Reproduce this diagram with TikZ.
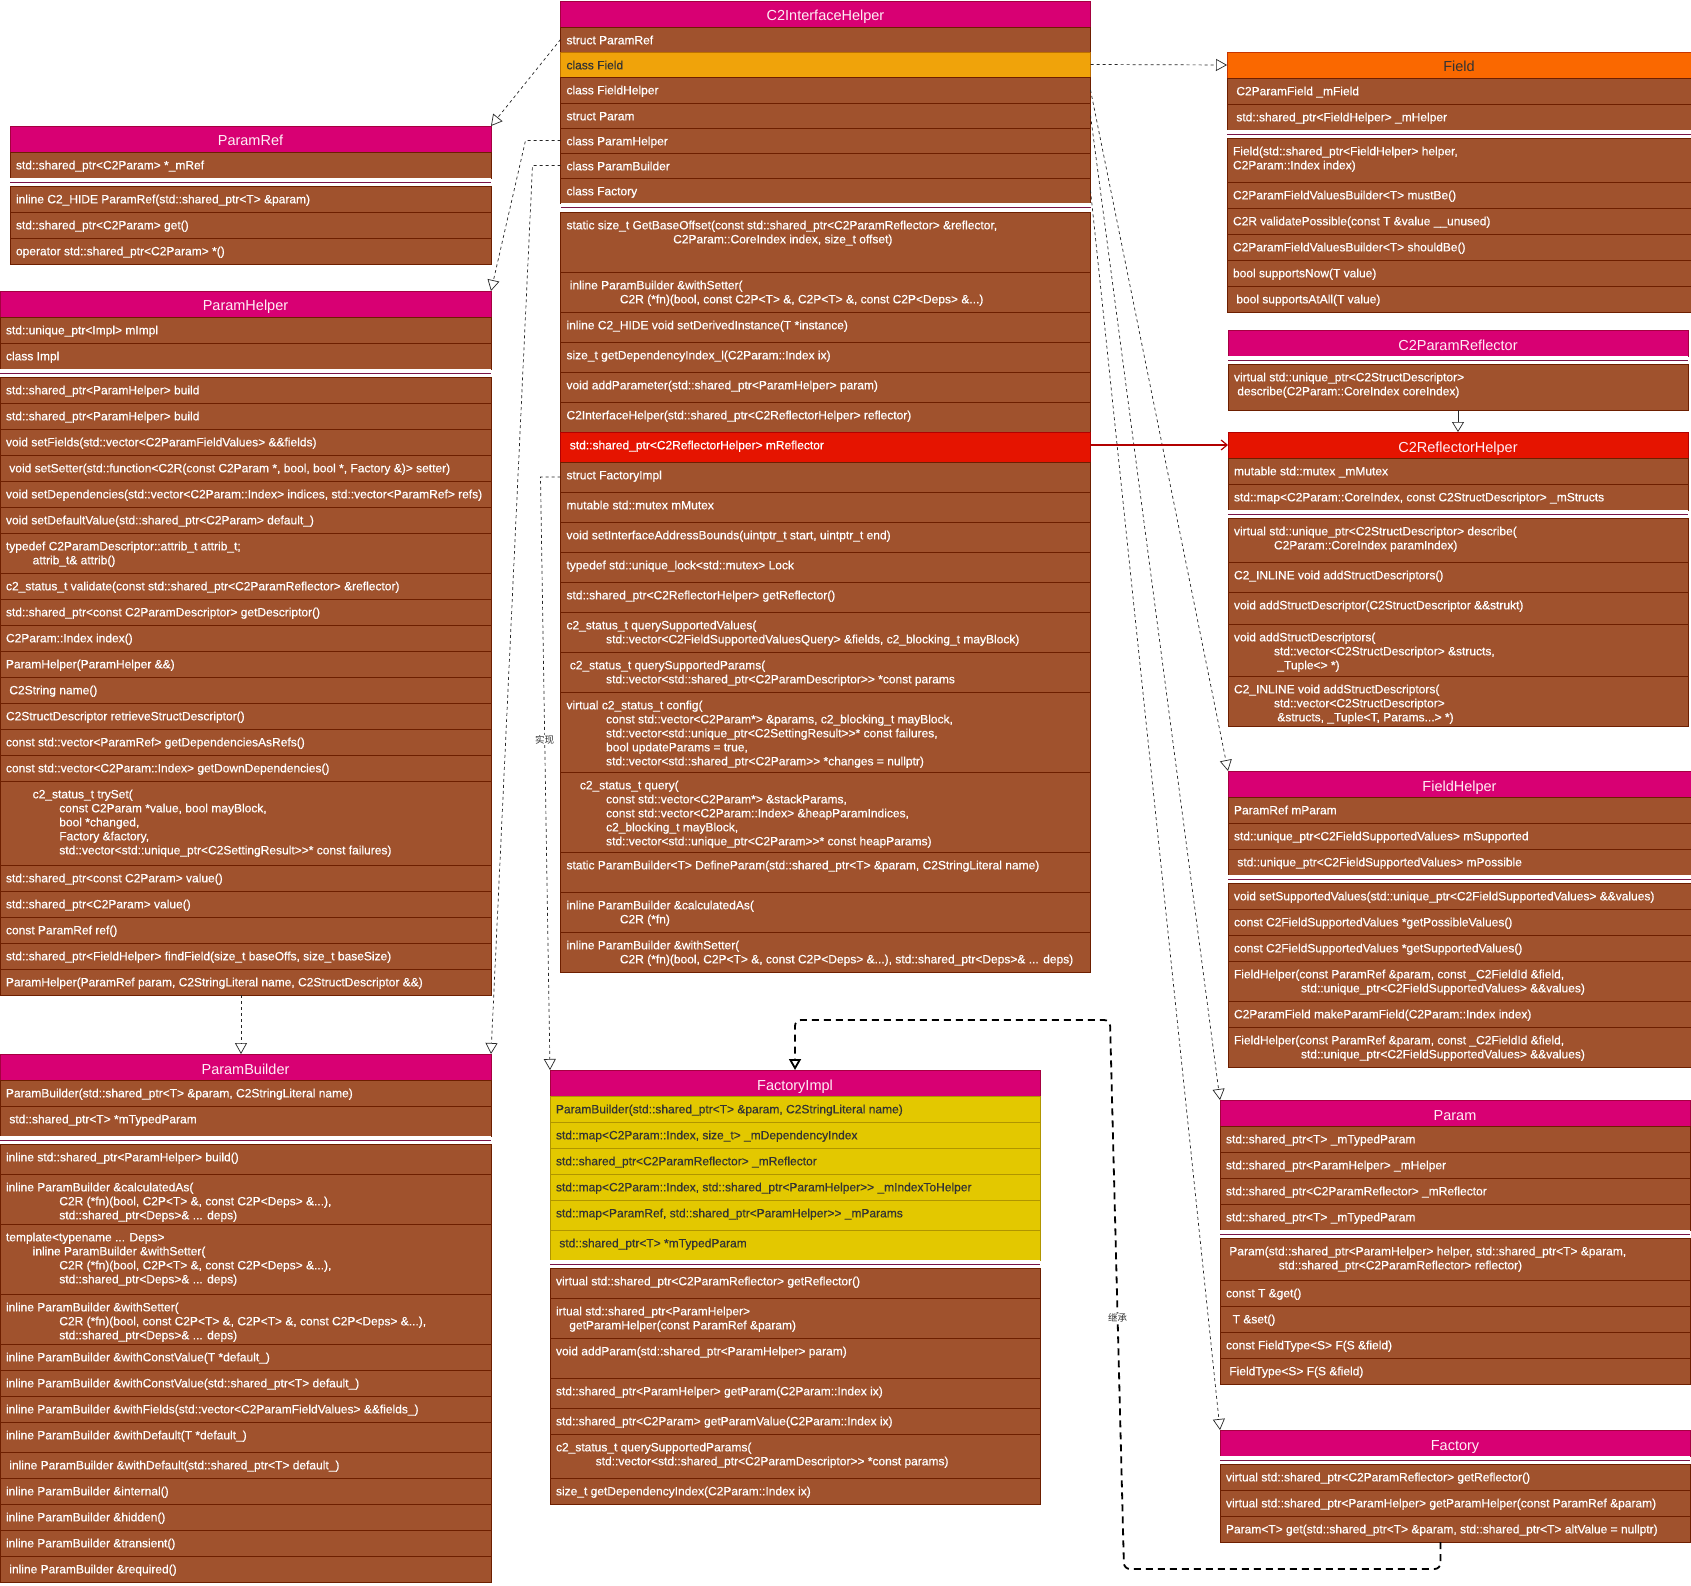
\documentclass[tikz,border=0pt]{standalone}
\usepackage{fontspec}
\setmainfont{Liberation Sans}[FakeBold=0.5]
\newfontfamily\hdrfam{Liberation Sans}
\newfontfamily\cjk{Noto Sans CJK SC}
\usetikzlibrary{arrows.meta}
\definecolor{hdr}{HTML}{D80073}\definecolor{hdrS}{HTML}{A50040}
\definecolor{sien}{HTML}{A0522D}\definecolor{sienS}{HTML}{6D1F00}
\definecolor{amb}{HTML}{F0A30A}\definecolor{ambS}{HTML}{BD7000}
\definecolor{orn}{HTML}{FA6800}\definecolor{ornS}{HTML}{C73500}
\definecolor{rd}{HTML}{E51400}\definecolor{rdS}{HTML}{B20000}
\definecolor{yel}{HTML}{E3C800}\definecolor{yelS}{HTML}{B09500}
\definecolor{sepC}{HTML}{7A1448}
\definecolor{dark}{HTML}{333333}
\definecolor{hdrT}{HTML}{FFEEF6}
\newdimen\cury
\def\cL{0}\def\cW{0}
\newcommand\rowfont{\fontsize{12}{14}\selectfont}
\newcommand\hdrfont{\hdrfam\fontsize{14.5}{17}\selectfont}
\newcommand\ind[1]{\hskip#1pt\relax}
\newcommand\rowlines[1]{\baselineskip=14pt\lineskiplimit=-100pt\lineskip=0pt\def\\{\egroup\hbox\bgroup}\hbox\bgroup#1\egroup}
\tikzset{
 cell/.style={anchor=north west, inner sep=0pt, outer sep=0pt, line width=0.9pt},
 hdrM/.style={cell, fill=hdr, draw=hdrS},
 hdrO/.style={cell, fill=orn, draw=ornS},
 hdrR/.style={cell, fill=rd, draw=rdS},
 rowB/.style={cell, fill=sien, draw=sienS},
 rowA/.style={cell, fill=amb, draw=ambS},
 rowR/.style={cell, fill=rd, draw=rdS},
 rowY/.style={cell, fill=yel, draw=yelS},
 sepbox/.style={cell, fill=white, draw=none},
 memtext/.style={anchor=base west, inner sep=0pt, outer sep=0pt, font=\rowfont},
 dep/.style={draw=black!85, line width=0.7pt, dash pattern=on 3pt off 3pt, -{Triangle[open,length=11pt,width=12pt]}},
 inh/.style={draw=black, line width=1.8pt, dash pattern=on 7pt off 5pt, rounded corners=6pt, -{Triangle[open,length=11pt,width=12pt]}},
 gen/.style={draw=black!85, line width=0.7pt, -{Triangle[open,length=10pt,width=12pt]}},
 redarr/.style={draw=rdS, line width=1.2pt, -{Straight Barb[length=6pt,width=10pt]}},
 lbl/.style={font=\cjk\fontsize{9.5}{11}\selectfont, fill=white, inner sep=0.5pt, text=black!80}
}
% class header: name, left, width, top, style, text colour, title
\newcommand\cls[7]{%
 \gdef\cL{#2}\gdef\cW{#3}\global\cury=#4pt\relax
 \node[#5, minimum width=#3pt, minimum height=26pt] (#1) at (#2pt,-#4pt) {};
 \node[anchor=base, inner sep=0pt, text=#6, font=\hdrfont] (#1t) at ({#2pt+#3pt/2},{-#4pt-20pt}) {#7};
 \global\advance\cury by 26pt\relax}
% member row: name, height, style, text colour, text
\newcommand\mem[5]{%
 \node[#3, minimum width=\cW pt, minimum height=#2pt] (#1) at (\cL pt,-\the\cury) {};
 \node[memtext, text=#4] (#1t) at ({\cL pt+6pt},{-\the\cury-17.3pt}) {\vtop{\rowlines{#5}}};
 \global\advance\cury by #2pt\relax}
\newcommand\m[3]{\mem{#1}{#2}{rowB}{white}{#3}}
\newcommand\my[3]{\mem{#1}{#2}{rowY}{dark}{#3}}
\newcommand\sepr[2][8]{%
 \node[sepbox, minimum width=\cW pt, minimum height=#1pt] (#2) at (\cL pt,-\the\cury) {};
 \draw[sepC, line width=0.9pt] ({\cL pt},{-\the\cury-#1pt/2}) -- ({\cL pt+\cW pt},{-\the\cury-#1pt/2});
 \global\advance\cury by #1pt\relax}
\begin{document}
\begin{tikzpicture}
\fill[white] (0,0) rectangle (1691pt,-1586pt);
\useasboundingbox (0,0) rectangle (1691pt,-1586pt);

% ---------------- ParamRef
\cls{pr}{10}{481}{126}{hdrM}{hdrT}{ParamRef}
\m{pr1}{26}{std::shared\_ptr<C2Param> *\_mRef}
\sepr{prs}
\m{pr2}{26}{inline C2\_HIDE ParamRef(std::shared\_ptr<T> \&param)}
\m{pr3}{26}{std::shared\_ptr<C2Param> get()}
\m{pr4}{26}{operator std::shared\_ptr<C2Param> *()}

% ---------------- ParamHelper
\cls{ph}{0}{491}{291}{hdrM}{hdrT}{ParamHelper}
\m{ph1}{26}{std::unique\_ptr<Impl> mImpl}
\m{ph2}{26}{class Impl}
\sepr{phs}
\m{ph3}{26}{std::shared\_ptr<ParamHelper> build}
\m{ph4}{26}{std::shared\_ptr<ParamHelper> build}
\m{ph5}{26}{void setFields(std::vector<C2ParamFieldValues> \&\&fields)}
\m{ph6}{26}{~void setSetter(std::function<C2R(const C2Param *, bool, bool *, Factory \&)> setter)}
\m{ph7}{26}{void setDependencies(std::vector<C2Param::Index> indices, std::vector<ParamRef> refs)}
\m{ph8}{26}{void setDefaultValue(std::shared\_ptr<C2Param> default\_)}
\m{ph9}{40}{typedef C2ParamDescriptor::attrib\_t attrib\_t;\\\ind{26.7}attrib\_t\& attrib()}
\m{ph10}{26}{c2\_status\_t validate(const std::shared\_ptr<C2ParamReflector> \&reflector)}
\m{ph11}{26}{std::shared\_ptr<const C2ParamDescriptor> getDescriptor()}
\m{ph12}{26}{C2Param::Index index()}
\m{ph13}{26}{ParamHelper(ParamHelper \&\&)}
\m{ph14}{26}{~C2String name()}
\m{ph15}{26}{C2StructDescriptor retrieveStructDescriptor()}
\m{ph16}{26}{const std::vector<ParamRef> getDependenciesAsRefs()}
\m{ph17}{26}{const std::vector<C2Param::Index> getDownDependencies()}
\m{ph18}{84}{\ind{26.7}c2\_status\_t trySet(\\\ind{53.3}const C2Param *value, bool mayBlock,\\\ind{53.3}bool *changed,\\\ind{53.3}Factory \&factory,\\\ind{53.3}std::vector<std::unique\_ptr<C2SettingResult>{}>* const failures)}
\m{ph19}{26}{std::shared\_ptr<const C2Param> value()}
\m{ph20}{26}{std::shared\_ptr<C2Param> value()}
\m{ph21}{26}{const ParamRef ref()}
\m{ph22}{26}{std::shared\_ptr<FieldHelper> findField(size\_t baseOffs, size\_t baseSize)}
\m{ph23}{26}{ParamHelper(ParamRef param, C2StringLiteral name, C2StructDescriptor \&\&)}

% ---------------- ParamBuilder
\cls{pb}{0}{491}{1054}{hdrM}{hdrT}{ParamBuilder}
\m{pb1}{26}{ParamBuilder(std::shared\_ptr<T> \&param, C2StringLiteral name)}
\m{pb2}{30}{~std::shared\_ptr<T> *mTypedParam}
\sepr{pbs}
\m{pb3}{30}{inline std::shared\_ptr<ParamHelper> build()}
\m{pb4}{50}{inline ParamBuilder \&calculatedAs(\\\ind{53.3}C2R (*fn)(bool, C2P<T> \&, const C2P<Deps> \&...),\\\ind{53.3}std::shared\_ptr<Deps>\& ... deps)}
\m{pb5}{70}{template<typename ... Deps>\\\ind{26.7}inline ParamBuilder \&withSetter(\\\ind{53.3}C2R (*fn)(bool, C2P<T> \&, const C2P<Deps> \&...),\\\ind{53.3}std::shared\_ptr<Deps>\& ... deps)}
\m{pb6}{50}{inline ParamBuilder \&withSetter(\\\ind{53.3}C2R (*fn)(bool, const C2P<T> \&, C2P<T> \&, const C2P<Deps> \&...),\\\ind{53.3}std::shared\_ptr<Deps>\& ... deps)}
\m{pb7}{26}{inline ParamBuilder \&withConstValue(T *default\_)}
\m{pb8}{26}{inline ParamBuilder \&withConstValue(std::shared\_ptr<T> default\_)}
\m{pb9}{26}{inline ParamBuilder \&withFields(std::vector<C2ParamFieldValues> \&\&fields\_)}
\m{pb10}{30}{inline ParamBuilder \&withDefault(T *default\_)}
\m{pb11}{26}{~inline ParamBuilder \&withDefault(std::shared\_ptr<T> default\_)}
\m{pb12}{26}{inline ParamBuilder \&internal()}
\m{pb13}{26}{inline ParamBuilder \&hidden()}
\m{pb14}{26}{inline ParamBuilder \&transient()}
\m{pb15}{26}{~inline ParamBuilder \&required()}

% ---------------- C2InterfaceHelper
\cls{ci}{560.5}{530}{1}{hdrM}{hdrT}{C2InterfaceHelper}
\m{ciParamRef}{25}{struct ParamRef}
\mem{ciField}{25}{rowA}{dark}{class Field}
\m{ciFieldHelper}{26}{class FieldHelper}
\m{ciParam}{25}{struct Param}
\m{ciParamHelper}{25}{class ParamHelper}
\m{ciParamBuilder}{25}{class ParamBuilder}
\m{ciFactory}{25}{class Factory}
\sepr[9]{cis}
\m{ci1}{60}{static size\_t GetBaseOffset(const std::shared\_ptr<C2ParamReflector> \&reflector,\\\ind{106.7}C2Param::CoreIndex index, size\_t offset)}
\m{ci2}{40}{~inline ParamBuilder \&withSetter(\\\ind{53.4}C2R (*fn)(bool, const C2P<T> \&, C2P<T> \&, const C2P<Deps> \&...)}
\m{ci3}{30}{inline C2\_HIDE void setDerivedInstance(T *instance)}
\m{ci4}{30}{size\_t getDependencyIndex\_l(C2Param::Index ix)}
\m{ci5}{30}{void addParameter(std::shared\_ptr<ParamHelper> param)}
\m{ci6}{30}{C2InterfaceHelper(std::shared\_ptr<C2ReflectorHelper> reflector)}
\mem{ciReflector}{30}{rowR}{white}{~std::shared\_ptr<C2ReflectorHelper> mReflector}
\m{ciFactoryImpl}{30}{struct FactoryImpl}
\m{ci7}{30}{mutable std::mutex mMutex}
\m{ci8}{30}{void setInterfaceAddressBounds(uintptr\_t start, uintptr\_t end)}
\m{ci9}{30}{typedef std::unique\_lock<std::mutex> Lock}
\m{ci10}{30}{std::shared\_ptr<C2ReflectorHelper> getReflector()}
\m{ci11}{40}{c2\_status\_t querySupportedValues(\\\ind{39.6}std::vector<C2FieldSupportedValuesQuery> \&fields, c2\_blocking\_t mayBlock)}
\m{ci12}{40}{~c2\_status\_t querySupportedParams(\\\ind{39.6}std::vector<std::shared\_ptr<C2ParamDescriptor>{}> *const params}
\m{ci13}{80}{virtual c2\_status\_t config(\\\ind{39.6}const std::vector<C2Param*> \&params, c2\_blocking\_t mayBlock,\\\ind{39.6}std::vector<std::unique\_ptr<C2SettingResult>{}>* const failures,\\\ind{39.6}bool updateParams = true,\\\ind{39.6}std::vector<std::shared\_ptr<C2Param>{}> *changes = nullptr)}
\m{ci14}{80}{\ind{13.4}c2\_status\_t query(\\\ind{39.6}const std::vector<C2Param*> \&stackParams,\\\ind{39.6}const std::vector<C2Param::Index> \&heapParamIndices,\\\ind{39.6}c2\_blocking\_t mayBlock,\\\ind{39.6}std::vector<std::unique\_ptr<C2Param>{}>* const heapParams)}
\m{ci15}{40}{static ParamBuilder<T> DefineParam(std::shared\_ptr<T> \&param, C2StringLiteral name)}
\m{ci16}{40}{inline ParamBuilder \&calculatedAs(\\\ind{53.4}C2R (*fn)}
\m{ci17}{40}{inline ParamBuilder \&withSetter(\\\ind{53.4}C2R (*fn)(bool, C2P<T> \&, const C2P<Deps> \&...), std::shared\_ptr<Deps>\& ... deps)}

% ---------------- FactoryImpl
\cls{fi}{550}{490}{1070}{hdrM}{hdrT}{FactoryImpl}
\my{fi1}{26}{ParamBuilder(std::shared\_ptr<T> \&param, C2StringLiteral name)}
\my{fi2}{26}{std::map<C2Param::Index, size\_t> \_mDependencyIndex}
\my{fi3}{26}{std::shared\_ptr<C2ParamReflector> \_mReflector}
\my{fi4}{26}{std::map<C2Param::Index, std::shared\_ptr<ParamHelper>{}> \_mIndexToHelper}
\my{fi5}{30}{std::map<ParamRef, std::shared\_ptr<ParamHelper>{}> \_mParams}
\my{fi6}{30}{~std::shared\_ptr<T> *mTypedParam}
\sepr{fis}
\m{fi7}{30}{virtual std::shared\_ptr<C2ParamReflector> getReflector()}
\m{fi8}{40}{irtual std::shared\_ptr<ParamHelper>\\\ind{13.3}getParamHelper(const ParamRef \&param)}
\m{fi9}{40}{void addParam(std::shared\_ptr<ParamHelper> param)}
\m{fi10}{30}{std::shared\_ptr<ParamHelper> getParam(C2Param::Index ix)}
\m{fi11}{26}{std::shared\_ptr<C2Param> getParamValue(C2Param::Index ix)}
\m{fi12}{44}{c2\_status\_t querySupportedParams(\\\ind{39.7}std::vector<std::shared\_ptr<C2ParamDescriptor>{}> *const params)}
\m{fi13}{26}{size\_t getDependencyIndex(C2Param::Index ix)}

% ---------------- Field
\cls{fd}{1227}{464}{52}{hdrO}{dark}{Field}
\m{fd1}{26}{~C2ParamField \_mField}
\m{fd2}{26}{~std::shared\_ptr<FieldHelper> \_mHelper}
\sepr{fds}
\m{fd3}{44}{Field(std::shared\_ptr<FieldHelper> helper,\\C2Param::Index index)}
\m{fd4}{26}{C2ParamFieldValuesBuilder<T> mustBe()}
\m{fd5}{26}{C2R validatePossible(const T \&value \_\_unused)}
\m{fd6}{26}{C2ParamFieldValuesBuilder<T> shouldBe()}
\m{fd7}{26}{bool supportsNow(T value)}
\m{fd8}{26}{~bool supportsAtAll(T value)}

% ---------------- C2ParamReflector
\cls{cpr}{1228}{460}{330}{hdrM}{hdrT}{C2ParamReflector}
\sepr{cprs}
\m{cpr1}{46}{virtual std::unique\_ptr<C2StructDescriptor>\\~describe(C2Param::CoreIndex coreIndex)}

% ---------------- C2ReflectorHelper
\cls{crh}{1228}{460}{432}{hdrR}{hdrT}{C2ReflectorHelper}
\m{crh1}{26}{mutable std::mutex \_mMutex}
\m{crh2}{26}{std::map<C2Param::CoreIndex, const C2StructDescriptor> \_mStructs}
\sepr{crhs}
\m{crh3}{44}{virtual std::unique\_ptr<C2StructDescriptor> describe(\\\ind{40}C2Param::CoreIndex paramIndex)}
\m{crh4}{30}{C2\_INLINE void addStructDescriptors()}
\m{crh5}{32}{void addStructDescriptor(C2StructDescriptor \&\&strukt)}
\m{crh6}{52}{void addStructDescriptors(\\\ind{40}std::vector<C2StructDescriptor> \&structs,\\\ind{40}~\_Tuple<> *)}
\m{crh7}{50}{C2\_INLINE void addStructDescriptors(\\\ind{40}std::vector<C2StructDescriptor>\\\ind{40}~\&structs, \_Tuple<T, Params...> *)}

% ---------------- FieldHelper
\cls{fh}{1228}{463}{771}{hdrM}{hdrT}{FieldHelper}
\m{fh1}{26}{ParamRef mParam}
\m{fh2}{26}{std::unique\_ptr<C2FieldSupportedValues> mSupported}
\m{fh3}{26}{~std::unique\_ptr<C2FieldSupportedValues> mPossible}
\sepr{fhs}
\m{fh4}{26}{void setSupportedValues(std::unique\_ptr<C2FieldSupportedValues> \&\&values)}
\m{fh5}{26}{const C2FieldSupportedValues *getPossibleValues()}
\m{fh6}{26}{const C2FieldSupportedValues *getSupportedValues()}
\m{fh7}{40}{FieldHelper(const ParamRef \&param, const \_C2FieldId \&field,\\\ind{67}std::unique\_ptr<C2FieldSupportedValues> \&\&values)}
\m{fh8}{26}{C2ParamField makeParamField(C2Param::Index index)}
\m{fh9}{40}{FieldHelper(const ParamRef \&param, const \_C2FieldId \&field,\\\ind{67}std::unique\_ptr<C2FieldSupportedValues> \&\&values)}

% ---------------- Param
\cls{pm}{1220}{470}{1100}{hdrM}{hdrT}{Param}
\m{pm1}{26}{std::shared\_ptr<T> \_mTypedParam}
\m{pm2}{26}{std::shared\_ptr<ParamHelper> \_mHelper}
\m{pm3}{26}{std::shared\_ptr<C2ParamReflector> \_mReflector}
\m{pm4}{26}{std::shared\_ptr<T> \_mTypedParam}
\sepr{pms}
\m{pm5}{42}{~Param(std::shared\_ptr<ParamHelper> helper, std::shared\_ptr<T> \&param,\\\ind{52.7}std::shared\_ptr<C2ParamReflector> reflector)}
\m{pm6}{26}{const T \&get()}
\m{pm7}{26}{~~T \&set()}
\m{pm8}{26}{const FieldType<S> F(S \&field)}
\m{pm9}{26}{~FieldType<S> F(S \&field)}

% ---------------- Factory
\cls{fa}{1220}{470}{1430}{hdrM}{hdrT}{Factory}
\sepr{fas}
\m{fa1}{26}{virtual std::shared\_ptr<C2ParamReflector> getReflector()}
\m{fa2}{26}{virtual std::shared\_ptr<ParamHelper> getParamHelper(const ParamRef \&param)}
\m{fa3}{26}{Param<T> get(std::shared\_ptr<T> \&param, std::shared\_ptr<T> altValue = nullptr)}

% ---------------- connectors
\draw[dep] (ciParamRef.west) -- (pr.north east);
\draw[dep] (ciParamHelper.west) -- ++(-35pt,0) -- (ph.north east);
\draw[dep] (ciParamBuilder.west) -- ++(-28pt,0) -- (pb.north east);
\draw[dep] (ciFactoryImpl.west) -- ++(-20pt,0) -- (fi.north west) node[pos=0.444, lbl] (lblImpl) {实现};
\draw[dep] ([xshift=-4.5pt]ph23.south) -- ([xshift=-4.5pt]pb.north);
\draw[dep] (ciField.east) -- (fd.west);
\draw[dep] (ciFieldHelper.east) -- (fh.north west);
\draw[dep] (ciParam.east) -- (pm.north west);
\draw[dep] (ciFactory.east) -- (fa.north west);
\draw[gen] (cpr1.south) -- (crh.north);
\draw[redarr] (ciReflector.east |- crh.west) -- (crh.west);
\coordinate (ih1) at (1124pt,-1569pt);
\coordinate (ih2) at (1110pt,-1020pt);
\draw[inh] ([xshift=-14.5pt]fa3.south) |- (ih1) -- node[pos=0.457, lbl] (lblInh) {继承} (ih2) -| (fi.north);
\end{tikzpicture}
\end{document}
